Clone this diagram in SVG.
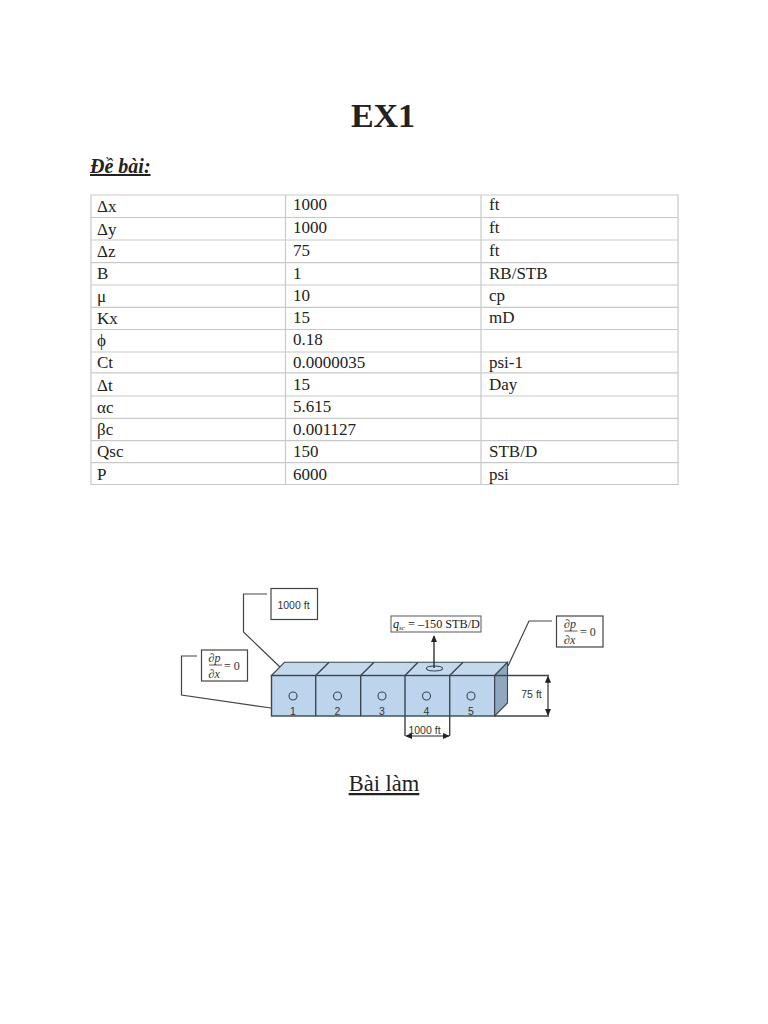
<svg xmlns="http://www.w3.org/2000/svg" width="768" height="1024" viewBox="0 0 768 1024">
<defs>
<style>
.t{font-family:"Liberation Serif","Times New Roman",serif;fill:#222}
.c{font-size:17px}
.s{font-family:"Liberation Sans",Arial,sans-serif;fill:#333;font-size:10.500px;text-anchor:middle}
.grid{stroke:#c9c9c9;stroke-width:1.200;fill:none}
.ln{stroke:#3a4650;stroke-width:1.400;fill:none}
.call{stroke:#444;stroke-width:1.200;fill:none}
.box{stroke:#444;stroke-width:1.200;fill:#fff}
.well{stroke:#34485a;stroke-width:1.100;fill:none}
.frac{font-family:"Liberation Serif",serif;font-size:12px;fill:#333}
</style>
<marker id="a" viewBox="0 0 8 8" refX="7" refY="4" markerWidth="7" markerHeight="7" orient="auto-start-reverse" markerUnits="userSpaceOnUse"><path d="M0 0.5L8 4L0 7.500z" fill="#222"/></marker>
</defs>
<rect width="768" height="1024" fill="#fff"/>
<text class="t" x="383" y="127" font-size="34" font-weight="bold" text-anchor="middle" fill="#111">EX1</text>
<text class="t" x="90" y="173" font-size="20" font-weight="bold" font-style="italic" text-decoration="underline">Đề bài:</text>
<g id="table">
<path class="grid" d="M91 195H678V484.500H91ZM285.500 195V484.500M481 195V484.500M91 217.500H678M91 240H678M91 262.700H678M91 285H678M91 307.300H678M91 329.500H678M91 352H678M91 372.800H678M91 396H678M91 418.300H678M91 440.700H678M91 462.700H678"/>
<g class="t c">
<text x="97" y="212">Δx</text><text x="293" y="210">1000</text><text x="489" y="210">ft</text>
<text x="97" y="235">Δy</text><text x="293" y="233">1000</text><text x="489" y="233">ft</text>
<text x="97" y="257">Δz</text><text x="293" y="256">75</text><text x="489" y="256">ft</text>
<text x="97" y="279">B</text><text x="293" y="279">1</text><text x="489" y="279">RB/STB</text>
<text x="97" y="302">μ</text><text x="293" y="301">10</text><text x="489" y="301">cp</text>
<text x="97" y="324">Kx</text><text x="293" y="323">15</text><text x="489" y="323">mD</text>
<text x="97" y="346">ϕ</text><text x="293" y="345">0.18</text>
<text x="97" y="368">Ct</text><text x="293" y="368">0.0000035</text><text x="489" y="368">psi-1</text>
<text x="97" y="391">Δt</text><text x="293" y="390">15</text><text x="489" y="390">Day</text>
<text x="97" y="413">αc</text><text x="293" y="412">5.615</text>
<text x="97" y="435">βc</text><text x="293" y="435">0.001127</text>
<text x="97" y="457">Qsc</text><text x="293" y="457">150</text><text x="489" y="457">STB/D</text>
<text x="97" y="480">P</text><text x="293" y="480">6000</text><text x="489" y="480">psi</text>
</g>
</g>
<g id="reservoir">
<path d="M271.500 675.500L284.500 662.300H507.500L494.700 675.500Z" fill="#c5d9ec" stroke="#3a4650" stroke-width="1.100"/>
<rect x="271.500" y="675.500" width="223.200" height="40.500" fill="#bcd5ec" stroke="#3a4650" stroke-width="1.400"/>
<path d="M494.700 675.500L507.500 662.300V703L494.700 716Z" fill="#8fa8bf" stroke="#3a4650" stroke-width="1.100"/>
<path class="ln" d="M315.700 675.500V716M360.700 675.500V716M405 675.500V716M449.700 675.500V716M315.700 675.500L329 662.300M360.700 675.500L374 662.300M405 675.500L418 662.300M449.700 675.500L463 662.300"/>
</g>
<g id="cells">
<circle class="well" cx="293" cy="696" r="4"/><circle class="well" cx="337.500" cy="696" r="4"/><circle class="well" cx="382" cy="696" r="4"/><circle class="well" cx="426.500" cy="696" r="4"/><circle class="well" cx="471" cy="696" r="4"/>
<text class="s" x="293" y="715">1</text><text class="s" x="337.500" y="715">2</text><text class="s" x="382" y="715">3</text><text class="s" x="426.500" y="715">4</text><text class="s" x="471" y="715">5</text>
<ellipse class="well" cx="434.500" cy="668.500" rx="8" ry="2.500" stroke-width="1.400"/>
</g>
<g id="connectors">
<path class="call" d="M267 594H243.500V632L280 667"/>
<path class="call" d="M197 656H181.500V695L271 708"/>
<path class="call" d="M552 621H529L508 666"/>
<path d="M434 668V636" stroke="#222" stroke-width="1.300" marker-end="url(#a)" fill="none"/>
<path class="ln" d="M495 675.500H549M495 716H549" stroke-width="0.800"/>
<path d="M548 676.500V715" stroke="#222" stroke-width="1.100" marker-start="url(#a)" marker-end="url(#a)" fill="none"/>
<path class="ln" d="M405 716V736M449.700 716V736"/>
<path d="M406 736H449" stroke="#222" stroke-width="1.100" marker-start="url(#a)" marker-end="url(#a)" fill="none"/>
</g>
<g id="label-1000-top"><rect class="box" x="271" y="588.500" width="46.500" height="31"/><text class="s" x="293.500" y="609">1000 ft</text></g>
<g id="label-bc-left"><rect class="box" x="201.500" y="650" width="46" height="31"/>
<text class="frac" x="208.500" y="661.500" font-style="italic">∂p</text><path d="M209 665H222" stroke="#333" stroke-width=".8"/><text class="frac" x="208.500" y="678" font-style="italic">∂x</text><text class="frac" x="224" y="669.500">= 0</text></g>
<g id="label-q"><rect x="391" y="616" width="90" height="16" fill="#fff" stroke="#666" stroke-width="1.100"/><text class="t" x="393" y="628" font-size="12.200" fill="#333"><tspan font-style="italic">q</tspan><tspan font-style="italic" font-size="7" dy="2">sc</tspan><tspan dy="-2"> = –150 STB/D</tspan></text></g>
<g id="label-bc-right"><rect class="box" x="556.500" y="616" width="46.500" height="31"/>
<text class="frac" x="564" y="627.500" font-style="italic">∂p</text><path d="M564.500 631H577.500" stroke="#333" stroke-width=".8"/><text class="frac" x="564" y="644" font-style="italic">∂x</text><text class="frac" x="580" y="635.500">= 0</text></g>
<g id="label-75"><text class="s" x="531.500" y="698">75 ft</text></g>
<g id="label-1000-bottom"><text class="s" x="424.500" y="734">1000 ft</text></g>
<text class="t" x="384" y="791" font-size="22.500" text-anchor="middle" text-decoration="underline">Bài làm</text>
</svg>
